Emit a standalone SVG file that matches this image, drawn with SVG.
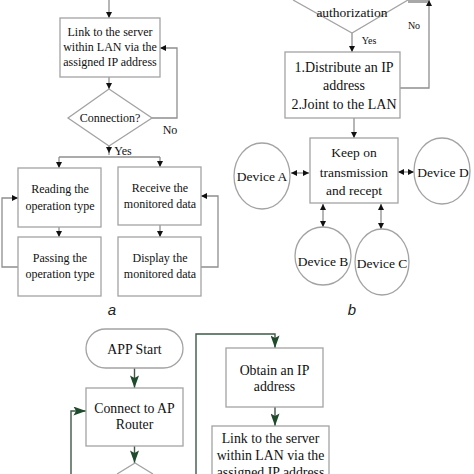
<svg xmlns="http://www.w3.org/2000/svg" width="474" height="474" viewBox="0 0 474 474">
<style>
.bx{fill:#fff;stroke:#a3a3a3;stroke-width:1.3}
.ln{fill:none;stroke:#8f8f8f;stroke-width:1.3}
.gl{fill:none;stroke:#3d5a47;stroke-width:1.4}
.t{font-family:"Liberation Serif","Times New Roman",serif;fill:#111;text-anchor:middle}
.a{font-size:12px}
.b{font-size:13.5px}
.c{font-size:13.8px}
.lb{font-family:"Liberation Sans",Arial,sans-serif;font-style:italic;font-size:15px;fill:#222;text-anchor:middle}
</style>
<defs>
<marker id="ah" viewBox="0 0 10 10" refX="10" refY="5" markerWidth="6" markerHeight="7" markerUnits="userSpaceOnUse" orient="auto-start-reverse"><path d="M0,0 L10,5 L0,10 z" fill="#111"/></marker>
<marker id="gh" viewBox="0 0 14 10" refX="14" refY="5" markerWidth="14" markerHeight="9" markerUnits="userSpaceOnUse" orient="auto"><path d="M0,0 L14,5 L0,10 L3,5 z" fill="#1f4a2c"/></marker>
</defs>
<rect width="474" height="474" fill="#fff"/>

<g id="connectors">
<!-- panel a -->
<path class="ln" d="M109,0 V18" marker-end="url(#ah)"/>
<path class="ln" d="M109,77 V89" marker-end="url(#ah)"/>
<path class="ln" d="M152,118 H177 V48 H160" marker-end="url(#ah)"/>
<path class="ln" d="M109,146 V155"/>
<path class="ln" d="M109,146 V153" marker-end="url(#ah)"/>
<path class="ln" d="M59,157 H160"/>
<path class="ln" d="M59,157 V168" marker-end="url(#ah)"/>
<path class="ln" d="M160,157 V167" marker-end="url(#ah)"/>
<path class="ln" d="M59,227 V237" marker-end="url(#ah)"/>
<path class="ln" d="M160,225 V237" marker-end="url(#ah)"/>
<path class="ln" d="M18,267 H2 V198 H18" marker-end="url(#ah)"/>
<path class="ln" d="M201,267 H218 V196 H201" marker-end="url(#ah)"/>
<!-- panel b -->
<path class="ln" d="M352,33 V52" marker-end="url(#ah)"/>
<path class="ln" d="M400,88 H429 V0" marker-end="url(#ah)"/>
<rect x="408" y="0" width="20" height="3" fill="#a8a8a8"/>
<path class="ln" d="M354,118 V138" marker-end="url(#ah)"/>
<path class="ln" d="M291,173 H309" marker-start="url(#ah)" marker-end="url(#ah)"/>
<path class="ln" d="M398,172 H414" marker-start="url(#ah)" marker-end="url(#ah)"/>
<path class="ln" d="M323,204 V227" marker-start="url(#ah)" marker-end="url(#ah)"/>
<path class="ln" d="M381,204 V229" marker-start="url(#ah)" marker-end="url(#ah)"/>
<!-- panel c -->
<path class="gl" d="M134.5,368 V388" marker-end="url(#gh)"/>
<path class="gl" d="M134.5,446 V463" marker-end="url(#gh)"/>
<path class="gl" d="M71,474 V411 H86" marker-end="url(#gh)"/>
<path class="gl" d="M196,474 V334 H275 V348" marker-end="url(#gh)"/>
<path class="gl" d="M275,407 V426" marker-end="url(#gh)"/>
</g>

<!-- panel a nodes -->
<g id="a-link">
<rect class="bx" x="60" y="18" width="100" height="59"/>
<text class="t a" x="110" y="36">Link to the server</text>
<text class="t a" x="110" y="51">within LAN via the</text>
<text class="t a" x="110" y="66">assigned IP address</text>
</g>
<g id="a-connection">
<polygon class="bx" points="109,89 152,118 109,146 68,118"/>
<text class="t a" x="110" y="122">Connection?</text>
</g>
<text class="t a" x="170" y="134">No</text>
<text class="t a" x="123" y="155">Yes</text>
<g id="a-reading">
<rect class="bx" x="18" y="168" width="83" height="59"/>
<text class="t a" x="60" y="193">Reading the</text>
<text class="t a" x="60" y="210">operation type</text>
</g>
<g id="a-passing">
<rect class="bx" x="18" y="237" width="83" height="59"/>
<text class="t a" x="60" y="262">Passing the</text>
<text class="t a" x="60" y="278">operation type</text>
</g>
<g id="a-receive">
<rect class="bx" x="118" y="167" width="83" height="58"/>
<text class="t a" x="160" y="192">Receive the</text>
<text class="t a" x="160" y="208">monitored data</text>
</g>
<g id="a-display">
<rect class="bx" x="118" y="237" width="83" height="59"/>
<text class="t a" x="160" y="262">Display the</text>
<text class="t a" x="160" y="278">monitored data</text>
</g>
<text class="lb" x="112" y="315">a</text>

<!-- panel b nodes -->
<g id="b-authorization">
<path class="bx" d="M293,0 L352,33 L408,0"/>
<text class="t b" x="352" y="17">authorization</text>
</g>
<text class="t" style="font-size:10px" x="369" y="44">Yes</text>
<text class="t" style="font-size:10px" x="414" y="29">No</text>
<g id="b-distribute">
<rect class="bx" x="285" y="52" width="115" height="66"/>
<text class="t" style="font-size:14px" x="344" y="72">1.Distribute an IP</text>
<text class="t" style="font-size:14px" x="344" y="90">address</text>
<text class="t" style="font-size:14px" x="344" y="109">2.Joint to the LAN</text>
</g>
<g id="b-keep">
<rect class="bx" x="310" y="138" width="88" height="65"/>
<text class="t b" x="354" y="157">Keep on</text>
<text class="t b" x="354" y="177">transmission</text>
<text class="t b" x="354" y="195">and recept</text>
</g>
<g id="b-deviceA">
<ellipse class="bx" cx="262" cy="176" rx="28" ry="33"/>
<text class="t b" x="262" y="181">Device A</text>
</g>
<g id="b-deviceD">
<ellipse class="bx" cx="442" cy="171" rx="28" ry="33"/>
<text class="t b" x="443" y="177">Device D</text>
</g>
<g id="b-deviceB">
<ellipse class="bx" cx="323" cy="256" rx="28" ry="29"/>
<text class="t b" x="323" y="266">Device B</text>
</g>
<g id="b-deviceC">
<ellipse class="bx" cx="382" cy="262" rx="27" ry="33"/>
<text class="t b" x="382" y="268">Device C</text>
</g>
<text class="lb" x="352" y="315">b</text>

<!-- panel c nodes -->
<g id="c-start">
<rect class="bx" x="86" y="329" width="97" height="39" rx="19.5"/>
<text class="t c" x="134.5" y="354">APP Start</text>
</g>
<g id="c-connect">
<rect class="bx" x="86" y="388" width="97" height="58"/>
<text class="t c" x="134.5" y="413">Connect to AP</text>
<text class="t c" x="134.5" y="429">Router</text>
</g>
<g id="c-decision">
<path class="bx" d="M117,474 L135,463 L153,474"/>
</g>
<g id="c-obtain">
<rect class="bx" x="226" y="348" width="97" height="59"/>
<text class="t c" x="274.5" y="375">Obtain an IP</text>
<text class="t c" x="274.5" y="391">address</text>
</g>
<g id="c-link">
<rect class="bx" x="212" y="426" width="117" height="60"/>
<text class="t c" x="270.5" y="443">Link to the server</text>
<text class="t c" x="270.5" y="460">within LAN via the</text>
<text class="t c" x="270.5" y="477">assigned IP address</text>
</g>
</svg>
